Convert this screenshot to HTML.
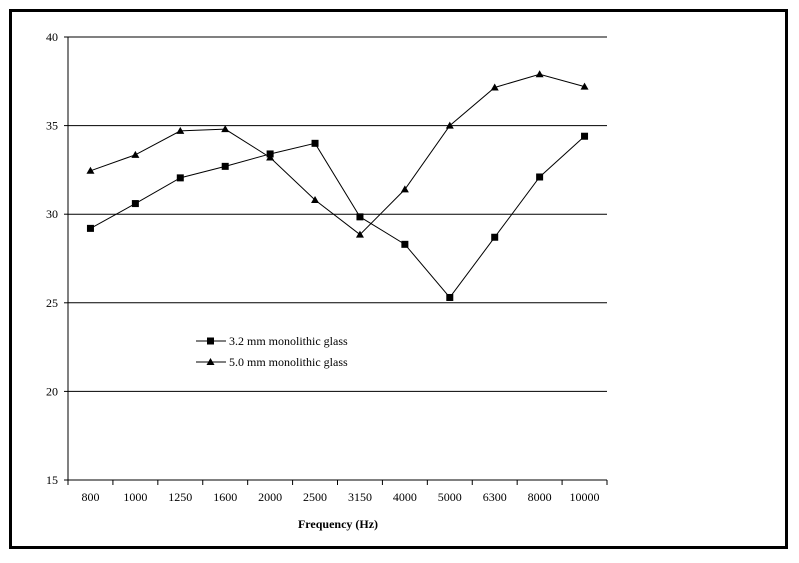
<!DOCTYPE html>
<html><head><meta charset="utf-8"><style>
body{margin:0;background:#fff;}
svg text{font-family:"Liberation Serif",serif;font-size:12px;fill:#000;}
</style></head><body>
<svg width="799" height="558">
<rect x="10.5" y="10.5" width="776" height="537" fill="#fff" stroke="#000" stroke-width="3"/>
<g id="grid"></g><g id="axes"></g><g id="series"></g>
<text x="338" y="528" text-anchor="middle" style="font-weight:bold">Frequency (Hz)</text>
<g>
<line x1="196" y1="341" x2="226" y2="341" stroke="#000"/>
<rect x="207" y="337.5" width="7" height="7" fill="#000"/>
<text x="229" y="345">3.2 mm monolithic glass</text>
<line x1="196" y1="362" x2="226" y2="362" stroke="#000"/>
<polygon points="210.5,358 214.5,365 206.5,365" fill="#000"/>
<text x="229" y="366">5.0 mm monolithic glass</text>
</g>
</svg>
<script>
const categories=["800","1000","1250","1600","2000","2500","3150","4000","5000","6300","8000","10000"];
const glass32=[29.2,30.6,32.05,32.7,33.4,34.0,29.85,28.3,25.3,28.7,32.1,34.4];
const glass50=[32.45,33.35,34.7,34.8,33.2,30.8,28.85,31.4,35.0,37.15,37.9,37.2];
const yTicks=[15,20,25,30,35,40];
const NS="http://www.w3.org/2000/svg";
const L=68,R=607,T=37,B=480,yMin=15,yMax=40;
const bw=(R-L)/categories.length;
function xs(i){return L+bw*(i+0.5);}
function ys(v){return B-(v-yMin)/(yMax-yMin)*(B-T);}
function mk(tag,attrs,parent){const e=document.createElementNS(NS,tag);for(const k in attrs)e.setAttribute(k,attrs[k]);parent.appendChild(e);return e;}
const grid=document.getElementById('grid'),axes=document.getElementById('axes'),ser=document.getElementById('series');
yTicks.forEach(t=>{
 const y=ys(t);
 if(t>yMin){const g=mk('line',{x1:L,x2:R,y1:y,y2:y,stroke:'#000','stroke-width':1},grid);
 
 }
 const tk=mk('line',{x1:L-4,x2:L,y1:y,y2:y,stroke:'#000'},axes);
 
 
 const tx=mk('text',{x:L-10,y:y+4,'text-anchor':'end'},axes);tx.textContent=t;
 
 
});
const ya=mk('line',{x1:L,x2:L,y1:T,y2:B,stroke:'#000'},axes);


const xa=mk('line',{x1:L,x2:R,y1:B,y2:B,stroke:'#000'},axes);


for(let i=0;i<=categories.length;i++){const x=L+bw*i;
 const tk=mk('line',{x1:x,x2:x,y1:B,y2:B+5,stroke:'#000'},axes);
 
 }
categories.forEach((c,i)=>{const t=mk('text',{x:xs(i),y:B+21,'text-anchor':'middle'},axes);t.textContent=c;
 
 });
function line(vals,name){const p=mk('polyline',{points:vals.map((v,i)=>xs(i)+','+ys(v)).join(' '),fill:'none',stroke:'#000','stroke-width':1},ser);
 
 }
line(glass32,'glass-3-2');line(glass50,'glass-5-0');
glass32.forEach((v,i)=>{const r=mk('rect',{x:xs(i)-3.5,y:ys(v)-3.5,width:7,height:7,fill:'#000'},ser);
 
 });
glass50.forEach((v,i)=>{const x=xs(i),y=ys(v);const p=mk('polygon',{points:`${x},${y-4} ${x+4},${y+3} ${x-4},${y+3}`,fill:'#000'},ser);
 
 });
</script>
</body></html>
